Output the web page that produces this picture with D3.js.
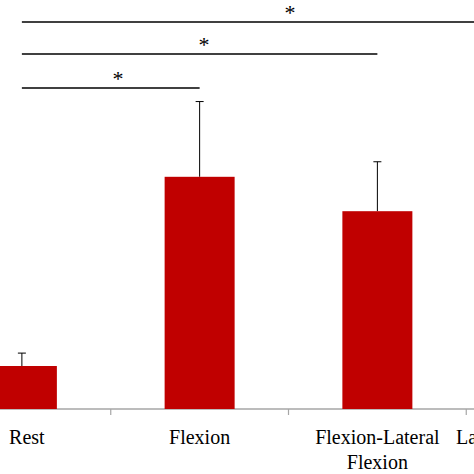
<!DOCTYPE html><html><head><script src="https://d3js.org/d3.v7.min.js"></script>
<style>body{margin:0}svg{display:block}text{font-family:"Liberation Serif","Times New Roman","DejaVu Serif",serif}</style></head><body><svg width="474" height="474"></svg>
<script>
const categories=["Rest","Flexion","Flexion-Lateral Flexion","Lateral Flexion-Rotation"];
const values=[1.0,5.4,4.6,4.0];
const errors=[0.3,1.75,1.15,1.0];
const sigPairs=[[0,1],[0,2],[0,3]];
const svg=d3.select("svg");
const x=d3.scaleBand().domain(categories).range([-67,644]).paddingInner(0).paddingOuter(0);
const y=d3.scaleLinear().domain([0,9]).range([409,22]);
const bw=70;
const cx=d=>x(d)+x.bandwidth()/2;
svg.append("line").attr("x1",0).attr("x2",474).attr("y1",409).attr("y2",409).attr("stroke","#a6a6a6").attr("stroke-width",1.5);
categories.forEach((c,i)=>{ if(i>0) svg.append("line").attr("x1",x(c)).attr("x2",x(c)).attr("y1",409).attr("y2",415).attr("stroke","#a6a6a6").attr("stroke-width",1.2);});
categories.forEach((c,i)=>{
 const xc=cx(c);
 svg.append("line").attr("x1",xc).attr("x2",xc).attr("y1",y(values[i])).attr("y2",y(values[i]+errors[i])).attr("stroke","#000");
 svg.append("line").attr("x1",xc-4).attr("x2",xc+4).attr("y1",y(values[i]+errors[i])).attr("y2",y(values[i]+errors[i])).attr("stroke","#000");
 svg.append("rect").attr("x",xc-bw/2).attr("width",bw).attr("y",y(values[i])).attr("height",y(0)-y(values[i])).attr("fill","#c00000");
 const words=c==="Flexion-Lateral Flexion"?["Flexion-Lateral","Flexion"]:[c];
 words.forEach((w,k)=>svg.append("text").attr("x",xc+(i===0?5:0)).attr("y",444+k*25).attr("text-anchor","middle").attr("font-size",20).text(w));
});
const lineY=[88,54,22];
sigPairs.forEach((p,i)=>{
 const x1=cx(categories[p[0]]),x2=cx(categories[p[1]]);
 svg.append("line").attr("x1",x1).attr("x2",x2).attr("y1",lineY[i]).attr("y2",lineY[i]).attr("stroke","#000").attr("stroke-width",1.5);
 svg.append("text").attr("x",[118,204,290][i]).attr("y",lineY[i]-2).attr("text-anchor","middle").attr("font-size",22).text("*");
});
</script></body></html>
